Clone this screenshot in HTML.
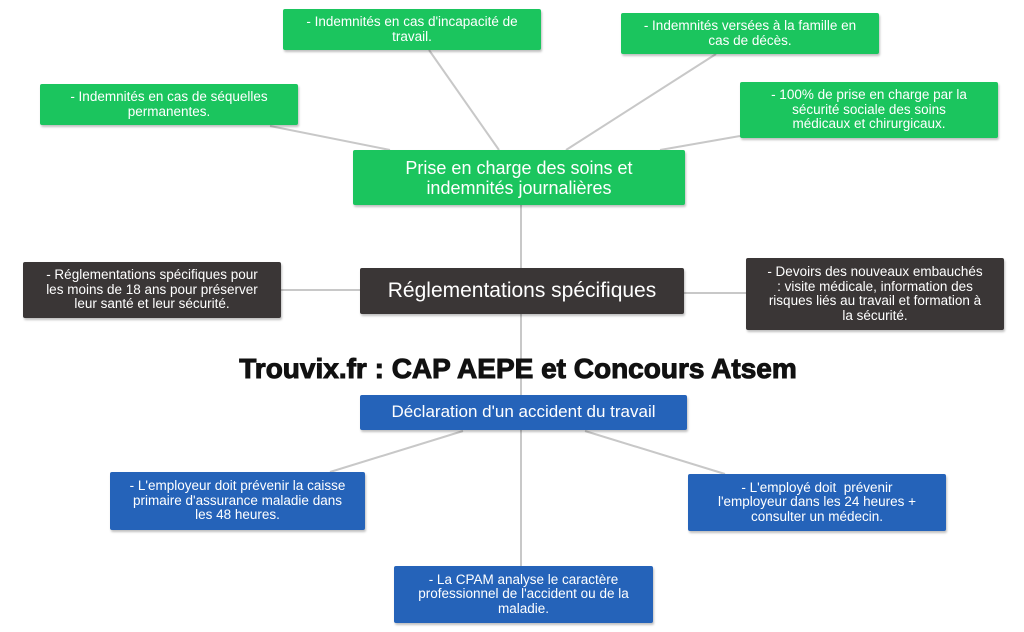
<!DOCTYPE html>
<html><head><meta charset="utf-8"><style>
body{margin:0;width:1024px;height:632px;background:#fff;position:relative;overflow:hidden;font-family:"Liberation Sans",sans-serif}
.b{position:absolute;box-sizing:border-box;color:#fff;text-align:center;display:flex;align-items:center;justify-content:center;border-radius:2px;box-shadow:1px 2px 2px rgba(0,0,0,.25);font-size:13.5px;line-height:14.5px;padding:0 4px;white-space:nowrap}
.g{background:#1bc55e}.d{background:#3a3636}.u{background:#2563b9}
.t{position:absolute;left:150px;width:736px;top:353px;text-align:center;font-weight:bold;font-size:28px;color:#111;-webkit-text-stroke:1px #111;white-space:nowrap}
</style></head><body>
<svg width="1024" height="632" style="position:absolute;left:0;top:0">
<g stroke="#c8c8c8" stroke-width="2" fill="none">
<line x1="521" y1="205" x2="521" y2="566"/>
<line x1="429" y1="50" x2="499" y2="150"/>
<line x1="270" y1="126" x2="390" y2="150"/>
<line x1="716" y1="54" x2="566" y2="150"/>
<line x1="740" y1="136" x2="660" y2="150"/>
<line x1="281" y1="290" x2="360" y2="290"/>
<line x1="684" y1="293" x2="746" y2="293"/>
<line x1="463" y1="431" x2="330" y2="472"/>
<line x1="585" y1="431" x2="725" y2="474"/>
</g></svg>
<div class="b g" style="left:283px;top:9px;width:258px;height:41px">- Indemnités en cas d'incapacité de<br>travail.</div>
<div class="b g" style="left:40px;top:84px;width:258px;height:41px">- Indemnités en cas de séquelles<br>permanentes.</div>
<div class="b g" style="left:621px;top:13px;width:258px;height:41px">- Indemnités versées à la famille en<br>cas de décès.</div>
<div class="b g" style="left:740px;top:82px;width:258px;height:56px">- 100% de prise en charge par la<br>sécurité sociale des soins<br>médicaux et chirurgicaux.</div>
<div class="b g" style="left:353px;top:150px;width:332px;height:55px;font-size:18px;line-height:20px">Prise en charge des soins et<br>indemnités journalières</div>
<div class="b d" style="left:23px;top:262px;width:258px;height:56px">- Réglementations spécifiques pour<br>les moins de 18 ans pour préserver<br>leur santé et leur sécurité.</div>
<div class="b d" style="left:360px;top:268px;width:324px;height:46px;font-size:21px">Réglementations spécifiques</div>
<div class="b d" style="left:746px;top:258px;width:258px;height:72px">- Devoirs des nouveaux embauchés<br>: visite médicale, information des<br>risques liés au travail et formation à<br>la sécurité.</div>
<div class="t">Trouvix.fr : CAP AEPE et Concours Atsem</div>
<div class="b u" style="left:360px;top:395px;width:327px;height:35px;font-size:17px">Déclaration d'un accident du travail</div>
<div class="b u" style="left:110px;top:472px;width:255px;height:58px">- L'employeur doit prévenir la caisse<br>primaire d'assurance maladie dans<br>les 48 heures.</div>
<div class="b u" style="left:688px;top:474px;width:258px;height:57px">- L'employé doit &nbsp;prévenir<br>l'employeur dans les 24 heures +<br>consulter un médecin.</div>
<div class="b u" style="left:394px;top:566px;width:259px;height:57px">- La CPAM analyse le caractère<br>professionnel de l'accident ou de la<br>maladie.</div>
</body></html>
